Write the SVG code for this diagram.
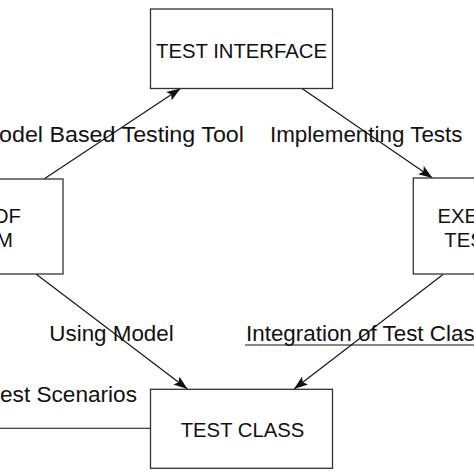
<svg xmlns="http://www.w3.org/2000/svg" width="474" height="474" viewBox="0 0 474 474">
<style>
.box{fill:#fff;stroke:#333;stroke-width:1.3}
.nt{font-family:"Liberation Sans",Arial,sans-serif;font-size:20.3px;fill:#111}
.lt{font-family:"Liberation Sans",Arial,sans-serif;font-size:22.4px;fill:#111}
.c{fill:none;stroke:#111;stroke-width:1.1}
</style>
<defs>
<marker id="ah" markerUnits="userSpaceOnUse" markerWidth="16" markerHeight="12" refX="14" refY="5" orient="auto">
<path d="M0,0 L14,5 L0,10 L3,5 Z" fill="#111"/>
</marker>
</defs>
<rect width="474" height="474" fill="#fff"/>
<g id="connectors">
<line class="c" x1="44" y1="179" x2="180.5" y2="88.5" marker-end="url(#ah)"/>
<line class="c" x1="302" y1="88.5" x2="432.5" y2="178" marker-end="url(#ah)"/>
<line class="c" x1="36" y1="274" x2="187.5" y2="389" marker-end="url(#ah)"/>
<line class="c" x1="443" y1="274.5" x2="294" y2="389" marker-end="url(#ah)"/>
<line class="c" x1="0" y1="428.2" x2="150" y2="428.2"/>
<line class="c" x1="245" y1="345" x2="474" y2="345"/>
</g>
<g id="test-interface">
<rect class="box" x="150.5" y="9" width="182" height="79.5"/>
<text class="nt" x="241.5" y="57.5" text-anchor="middle">TEST INTERFACE</text>
</g>
<g id="model-node">
<rect class="box" x="-20" y="179" width="83" height="95"/>
<text class="nt" x="21" y="222.5" text-anchor="end">OF</text>
<text class="nt" x="13" y="247" text-anchor="end">M</text>
</g>
<g id="execute-node">
<rect class="box" x="413.3" y="178" width="80" height="96"/>
<text class="nt" x="437.5" y="222.5">EXE</text>
<text class="nt" x="444.3" y="247">TES</text>
</g>
<g id="test-class">
<rect class="box" x="150.5" y="389.3" width="182" height="79"/>
<text class="nt" x="242.5" y="437.3" text-anchor="middle">TEST CLASS</text>
</g>
<g id="labels">
<text class="lt" x="-1" y="142" textLength="245" lengthAdjust="spacingAndGlyphs">odel Based Testing Tool</text>
<text class="lt" x="270" y="142">Implementing Tests</text>
<text class="lt" x="49.3" y="340.8">Using Model</text>
<text class="lt" x="246" y="340.8">Integration of Test Clas</text>
<text class="lt" x="0" y="402.3" textLength="137" lengthAdjust="spacingAndGlyphs">est Scenarios</text>
</g>
</svg>
